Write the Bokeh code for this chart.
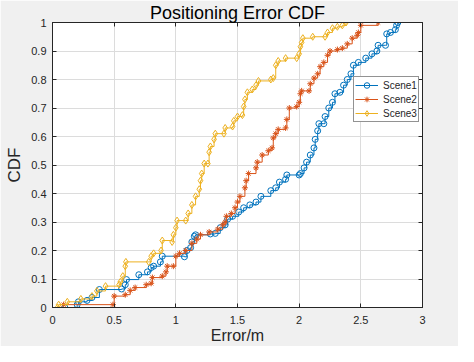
from bokeh.plotting import figure
from bokeh.models import (LinearAxis, FixedTicker, CustomJSTickFormatter, Legend,
                          LegendItem, Range1d)
from bokeh.embed import file_html
from bokeh.resources import INLINE

# ---------------- data ----------------
title_text = "Positioning Error CDF"
x_label = "Error/m"
y_label = "CDF"
series_names = ["Scene1", "Scene2", "Scene3"]
x_ticks = [0, 0.5, 1, 1.5, 2, 2.5, 3]
y_ticks = [0, 0.1, 0.2, 0.3, 0.4, 0.5, 0.6, 0.7, 0.8, 0.9, 1]

scene1_err = [0.10, 0.20, 0.21, 0.28, 0.32, 0.38, 0.56, 0.59, 0.60, 0.70, 0.77, 0.80,
              0.82, 0.875, 0.89, 1.07, 1.09, 1.12, 1.13, 1.15, 1.16, 1.28, 1.32, 1.36,
              1.40, 1.42, 1.46, 1.51, 1.55, 1.60, 1.65, 1.69, 1.77, 1.81, 1.84, 1.89,
              1.90, 2.00, 2.01, 2.04, 2.06, 2.09, 2.12, 2.13, 2.15, 2.16, 2.20, 2.21,
              2.24, 2.27, 2.29, 2.33, 2.36, 2.39, 2.42, 2.44, 2.48, 2.54, 2.59, 2.63,
              2.64, 2.70, 2.71, 2.74, 2.78, 2.79, 2.80]
scene1_cdf = [0.0, 0.01, 0.02, 0.025, 0.035, 0.063, 0.065, 0.08, 0.098, 0.115, 0.125, 0.14,
              0.145, 0.16, 0.18, 0.178, 0.20, 0.21, 0.23, 0.25, 0.255, 0.258, 0.26, 0.28,
              0.29, 0.31, 0.32, 0.335, 0.35, 0.36, 0.37, 0.39, 0.41, 0.42, 0.44, 0.45,
              0.465, 0.465, 0.47, 0.49, 0.51, 0.535, 0.56, 0.59, 0.62, 0.645, 0.645, 0.67,
              0.70, 0.72, 0.75, 0.755, 0.78, 0.80, 0.82, 0.85, 0.86, 0.875, 0.89, 0.90,
              0.92, 0.92, 0.96, 0.965, 0.975, 0.99, 1.0]

scene2_err = [0.09, 0.49, 0.50, 0.59, 0.63, 0.67, 0.76, 0.80, 0.81, 0.89, 0.92, 0.93,
              0.98, 1.00, 1.03, 1.08, 1.13, 1.17, 1.20, 1.27, 1.34, 1.38, 1.40, 1.41,
              1.45, 1.48, 1.50, 1.52, 1.56, 1.57, 1.59, 1.65, 1.66, 1.70, 1.75, 1.78,
              1.79, 1.81, 1.83, 1.89, 1.90, 1.92, 1.98, 2.00, 2.01, 2.02, 2.08, 2.09,
              2.12, 2.15, 2.17, 2.20, 2.23, 2.25, 2.31, 2.35, 2.39, 2.43, 2.47, 2.48,
              2.50, 2.64]
scene2_cdf = [0.01, 0.01, 0.04, 0.045, 0.06, 0.07, 0.08, 0.085, 0.105, 0.11, 0.125, 0.145,
              0.145, 0.18, 0.19, 0.20, 0.225, 0.24, 0.255, 0.265, 0.275, 0.29, 0.30, 0.32,
              0.33, 0.35, 0.37, 0.39, 0.42, 0.445, 0.47, 0.49, 0.51, 0.535, 0.55, 0.56,
              0.595, 0.61, 0.625, 0.63, 0.66, 0.70, 0.705, 0.72, 0.75, 0.76, 0.76, 0.785,
              0.805, 0.82, 0.845, 0.86, 0.885, 0.90, 0.905, 0.91, 0.925, 0.945, 0.955, 0.965,
              0.99, 1.0]

scene3_err = [0.04, 0.05, 0.12, 0.23, 0.32, 0.36, 0.43, 0.54, 0.55, 0.57, 0.59, 0.595,
              0.78, 0.80, 0.82, 0.88, 0.89, 0.97, 0.98, 1.00, 1.01, 1.08, 1.10, 1.13,
              1.16, 1.19, 1.20, 1.21, 1.23, 1.26, 1.27, 1.28, 1.31, 1.32, 1.39, 1.40,
              1.46, 1.47, 1.50, 1.54, 1.55, 1.56, 1.58, 1.62, 1.65, 1.67, 1.77, 1.79,
              1.81, 1.83, 1.89, 1.98, 2.00, 2.01, 2.02, 2.03, 2.11, 2.21, 2.23, 2.27,
              2.31, 2.35, 2.38]
scene3_cdf = [0.0, 0.01, 0.02, 0.03, 0.04, 0.058, 0.075, 0.08, 0.09, 0.11, 0.145, 0.16,
              0.16, 0.18, 0.19, 0.20, 0.235, 0.23, 0.255, 0.28, 0.305, 0.305, 0.33, 0.36,
              0.39, 0.415, 0.445, 0.47, 0.505, 0.505, 0.545, 0.565, 0.59, 0.61, 0.61, 0.63,
              0.635, 0.655, 0.67, 0.675, 0.705, 0.73, 0.755, 0.765, 0.78, 0.795, 0.80, 0.805,
              0.85, 0.865, 0.875, 0.875, 0.89, 0.915, 0.93, 0.945, 0.95, 0.95, 0.965, 0.98,
              0.985, 0.99, 1.0]

colors = ["#0072BD", "#D95319", "#EDB120"]
markers = ["circle", "asterisk", "diamond"]
marker_sizes = [6, 6, 7]

# ---------------- figure ----------------
AX = "#262626"
FH = 287
p = figure(width=458, height=346, output_backend="svg", toolbar_location=None,
           x_range=Range1d(0, 3), y_range=Range1d(0, 1),
           min_border_left=52, min_border_right=36, min_border_top=20,
           min_border_bottom=346 - 20 - FH,
           background_fill_color="white", border_fill_color="#f0f0f0",
           outline_line_color=AX, outline_line_width=1)

p.title.text = title_text
p.title.align = "center"
p.title.text_font = "Liberation Sans"
p.title.text_font_size = "18px"
p.title.text_font_style = "normal"
p.title.text_color = "#000000"
p.title.standoff = 0

xt = FixedTicker(ticks=x_ticks)
yt = FixedTicker(ticks=y_ticks)
fmt = CustomJSTickFormatter(code="return String(Math.round(tick*10)/10);")
blank = CustomJSTickFormatter(code="return '';")

for ax, tk in ((p.xaxis[0], xt), (p.yaxis[0], yt)):
    ax.ticker = tk
    ax.formatter = fmt
    ax.major_tick_in = 4
    ax.major_tick_out = 0
    ax.minor_tick_line_color = None
    ax.axis_line_color = AX
    ax.major_tick_line_color = AX
    ax.major_label_text_font = "Liberation Sans"
    ax.major_label_text_font_size = "11px"
    ax.major_label_text_color = AX
    ax.axis_label_text_font = "Liberation Sans"
    ax.axis_label_text_font_size = "17px"
    ax.axis_label_text_font_style = "normal"
    ax.axis_label_text_color = AX

p.xaxis.axis_label = x_label
p.xaxis.axis_label_text_font_size = "16px"
p.yaxis.axis_label = y_label
p.xaxis.major_label_standoff = 8
p.xaxis.axis_label_standoff = 0
p.yaxis.major_label_standoff = 6
p.yaxis.axis_label_standoff = 4

for loc, tk in (("above", xt), ("right", yt)):
    a = LinearAxis(ticker=tk, formatter=blank, major_tick_in=4, major_tick_out=0,
                   minor_tick_line_color=None, axis_line_color=AX,
                   major_tick_line_color=AX, major_label_standoff=0,
                   major_label_text_font_size="1px")
    p.add_layout(a, loc)

p.xgrid.ticker = xt
p.ygrid.ticker = yt
p.grid.grid_line_color = "#dcdcdc"
p.grid.grid_line_width = 1

items = []
for name, xs, ys, c, m, s in zip(series_names,
                                  [scene1_err, scene2_err, scene3_err],
                                  [scene1_cdf, scene2_cdf, scene3_cdf],
                                  colors, markers, marker_sizes):
    r1 = p.step(xs, ys, mode="after", line_color=c, line_width=1)
    r2 = p.scatter(xs, ys, marker=m, size=s, fill_color=None, line_color=c, line_width=1)
    items.append(LegendItem(label=name, renderers=[r1, r2]))

legend = Legend(items=items, location=(301, 185), padding=1, spacing=0, margin=0,
                glyph_width=23, glyph_height=14, label_height=14, label_standoff=5,
                label_text_font="Liberation Sans", label_text_font_size="10px",
                label_text_color=AX, border_line_color=AX, border_line_width=1,
                background_fill_color="white", background_fill_alpha=1)
p.add_layout(legend)

open("out.html", "w").write(file_html(p, INLINE))
